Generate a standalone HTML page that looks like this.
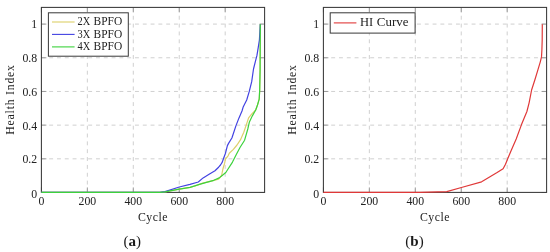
<!DOCTYPE html>
<html><head><meta charset="utf-8"><style>
html,body{margin:0;padding:0;background:#fff;}
body{width:550px;height:252px;overflow:hidden;}
svg{display:block;}
.t{font-family:'Liberation Serif', serif;font-size:11.8px;fill:#222;}
.c{font-family:'Liberation Serif', serif;font-size:15px;fill:#1a1a1a;}
</style></head><body>
<svg width="550" height="252" viewBox="0 0 550 252">
<line x1="87.35" y1="192.4" x2="87.35" y2="7.4" stroke="#cbcbcb" stroke-width="0.9" stroke-dasharray="3.925 3.925"/>
<line x1="133.3" y1="192.4" x2="133.3" y2="7.4" stroke="#cbcbcb" stroke-width="0.9" stroke-dasharray="3.925 3.925"/>
<line x1="179.25" y1="192.4" x2="179.25" y2="7.4" stroke="#cbcbcb" stroke-width="0.9" stroke-dasharray="3.925 3.925"/>
<line x1="225.2" y1="192.4" x2="225.2" y2="7.4" stroke="#cbcbcb" stroke-width="0.9" stroke-dasharray="3.925 3.925"/>
<line x1="41.4" y1="158.82" x2="264.6" y2="158.82" stroke="#cbcbcb" stroke-width="0.9" stroke-dasharray="3.9 3.9"/>
<line x1="41.4" y1="125.14" x2="264.6" y2="125.14" stroke="#cbcbcb" stroke-width="0.9" stroke-dasharray="3.9 3.9"/>
<line x1="41.4" y1="91.46" x2="264.6" y2="91.46" stroke="#cbcbcb" stroke-width="0.9" stroke-dasharray="3.9 3.9"/>
<line x1="41.4" y1="57.78" x2="264.6" y2="57.78" stroke="#cbcbcb" stroke-width="0.9" stroke-dasharray="3.9 3.9"/>
<line x1="41.4" y1="24.1" x2="264.6" y2="24.1" stroke="#cbcbcb" stroke-width="0.9" stroke-dasharray="3.9 3.9"/>
<line x1="41.4" y1="192.4" x2="41.4" y2="187.4" stroke="#8a8a8a" stroke-width="0.8"/>
<line x1="41.4" y1="7.4" x2="41.4" y2="12.4" stroke="#8a8a8a" stroke-width="0.8"/>
<line x1="87.35" y1="192.4" x2="87.35" y2="187.4" stroke="#8a8a8a" stroke-width="0.8"/>
<line x1="87.35" y1="7.4" x2="87.35" y2="12.4" stroke="#8a8a8a" stroke-width="0.8"/>
<line x1="133.3" y1="192.4" x2="133.3" y2="187.4" stroke="#8a8a8a" stroke-width="0.8"/>
<line x1="133.3" y1="7.4" x2="133.3" y2="12.4" stroke="#8a8a8a" stroke-width="0.8"/>
<line x1="179.25" y1="192.4" x2="179.25" y2="187.4" stroke="#8a8a8a" stroke-width="0.8"/>
<line x1="179.25" y1="7.4" x2="179.25" y2="12.4" stroke="#8a8a8a" stroke-width="0.8"/>
<line x1="225.2" y1="192.4" x2="225.2" y2="187.4" stroke="#8a8a8a" stroke-width="0.8"/>
<line x1="225.2" y1="7.4" x2="225.2" y2="12.4" stroke="#8a8a8a" stroke-width="0.8"/>
<line x1="41.4" y1="192.5" x2="46.4" y2="192.5" stroke="#8a8a8a" stroke-width="0.8"/>
<line x1="264.6" y1="192.5" x2="259.6" y2="192.5" stroke="#8a8a8a" stroke-width="0.8"/>
<line x1="41.4" y1="158.82" x2="46.4" y2="158.82" stroke="#8a8a8a" stroke-width="0.8"/>
<line x1="264.6" y1="158.82" x2="259.6" y2="158.82" stroke="#8a8a8a" stroke-width="0.8"/>
<line x1="41.4" y1="125.14" x2="46.4" y2="125.14" stroke="#8a8a8a" stroke-width="0.8"/>
<line x1="264.6" y1="125.14" x2="259.6" y2="125.14" stroke="#8a8a8a" stroke-width="0.8"/>
<line x1="41.4" y1="91.46" x2="46.4" y2="91.46" stroke="#8a8a8a" stroke-width="0.8"/>
<line x1="264.6" y1="91.46" x2="259.6" y2="91.46" stroke="#8a8a8a" stroke-width="0.8"/>
<line x1="41.4" y1="57.78" x2="46.4" y2="57.78" stroke="#8a8a8a" stroke-width="0.8"/>
<line x1="264.6" y1="57.78" x2="259.6" y2="57.78" stroke="#8a8a8a" stroke-width="0.8"/>
<line x1="41.4" y1="24.1" x2="46.4" y2="24.1" stroke="#8a8a8a" stroke-width="0.8"/>
<line x1="264.6" y1="24.1" x2="259.6" y2="24.1" stroke="#8a8a8a" stroke-width="0.8"/>
<rect x="41.4" y="7.4" width="223.2" height="185" fill="none" stroke="#383838" stroke-width="1.05"/>
<polyline points="41.4,192.4 160,192.4 165,191.8 179.3,189.2 190,187.4 195,186 201.9,183.4 210,181.4 218.6,179.1 221.6,175.5 222.8,169.5 223.6,166.5 224.6,163.4 225.5,159 228.1,155.8 229.3,153.2 233.4,149.4 237,145 240.4,139.9 243.8,132.2 246.2,125.1 248.6,117.9 251.6,114.2 254.3,111.4 255.7,110 257.5,105 259.2,99.2 259.7,90 260.1,70 260.3,24.3" fill="none" stroke="#ddcf68" stroke-width="1.2" stroke-linejoin="round" />
<polyline points="41.4,192.4 160,192.4 165,191.6 179.3,187 190,184.4 198.3,182 203.1,177.9 209.1,174.3 215,170.7 218.6,167.2 220.5,165 222.3,162.1 223.6,158.3 225.5,153.2 227.4,145.6 228.7,143.1 231.9,138 235.9,125.9 239,117.9 242,111 243.3,106.7 246.7,100 249.2,91.7 251.7,81.7 253.5,69 255.4,61.4 256.9,55.7 258.3,47.1 259.4,40 260.3,24.3" fill="none" stroke="#4242e2" stroke-width="1.2" stroke-linejoin="round" />
<polyline points="41.4,192.4 160,192.4 165,191.8 179.3,189.2 190,187.4 199.5,184.4 205.5,182.6 213.8,180.3 219.2,177.9 222.2,175.5 225.8,172.5 227.4,170 232.5,162.1 236.3,154.5 240,147.5 244.6,140.2 247.8,129 249.4,121.9 252.5,115.6 255.7,110 257.5,105 259.2,99.2 259.7,90 260.1,70 260.3,24.3" fill="none" stroke="#3cd23c" stroke-width="1.2" stroke-linejoin="round" />
<rect x="48.4" y="12.8" width="79.9" height="43.4" fill="#fff" stroke="#383838" stroke-width="1.0"/>
<line x1="52" y1="22" x2="74.6" y2="22" stroke="#ddcf68" stroke-width="1.1"/>
<text x="77.5" y="25.2" class="t" textLength="12.7" lengthAdjust="spacingAndGlyphs">2X</text>
<text x="93.6" y="25.2" class="t" textLength="28.6" lengthAdjust="spacingAndGlyphs">BPFO</text>
<line x1="52" y1="34.4" x2="74.6" y2="34.4" stroke="#4242e2" stroke-width="1.1"/>
<text x="77.5" y="37.6" class="t" textLength="12.7" lengthAdjust="spacingAndGlyphs">3X</text>
<text x="93.6" y="37.6" class="t" textLength="28.6" lengthAdjust="spacingAndGlyphs">BPFO</text>
<line x1="52" y1="46.9" x2="74.6" y2="46.9" stroke="#3cd23c" stroke-width="1.1"/>
<text x="77.5" y="50.1" class="t" textLength="12.7" lengthAdjust="spacingAndGlyphs">4X</text>
<text x="93.6" y="50.1" class="t" textLength="28.6" lengthAdjust="spacingAndGlyphs">BPFO</text>
<text x="41.4" y="204.8" class="t" text-anchor="middle">0</text>
<text x="87.35" y="204.8" class="t" text-anchor="middle">200</text>
<text x="133.3" y="204.8" class="t" text-anchor="middle">400</text>
<text x="179.25" y="204.8" class="t" text-anchor="middle">600</text>
<text x="225.2" y="204.8" class="t" text-anchor="middle">800</text>
<text x="37.2" y="197.7" class="t" text-anchor="end">0</text>
<text x="37.2" y="163.22" class="t" text-anchor="end">0.2</text>
<text x="37.2" y="129.54" class="t" text-anchor="end">0.4</text>
<text x="37.2" y="95.86" class="t" text-anchor="end">0.6</text>
<text x="37.2" y="62.18" class="t" text-anchor="end">0.8</text>
<text x="37.2" y="27.8" class="t" text-anchor="end">1</text>
<text x="137.9" y="221.4" class="t" textLength="29.6" lengthAdjust="spacing">Cycle</text>
<text class="t" x="0" y="0" textLength="69.7" lengthAdjust="spacing" transform="translate(13.8,134.7) rotate(-90)">Health Index</text>
<line x1="369.35" y1="192.4" x2="369.35" y2="7.4" stroke="#cbcbcb" stroke-width="0.9" stroke-dasharray="3.925 3.925"/>
<line x1="415.3" y1="192.4" x2="415.3" y2="7.4" stroke="#cbcbcb" stroke-width="0.9" stroke-dasharray="3.925 3.925"/>
<line x1="461.25" y1="192.4" x2="461.25" y2="7.4" stroke="#cbcbcb" stroke-width="0.9" stroke-dasharray="3.925 3.925"/>
<line x1="507.2" y1="192.4" x2="507.2" y2="7.4" stroke="#cbcbcb" stroke-width="0.9" stroke-dasharray="3.925 3.925"/>
<line x1="323.4" y1="158.82" x2="546.6" y2="158.82" stroke="#cbcbcb" stroke-width="0.9" stroke-dasharray="3.9 3.9"/>
<line x1="323.4" y1="125.14" x2="546.6" y2="125.14" stroke="#cbcbcb" stroke-width="0.9" stroke-dasharray="3.9 3.9"/>
<line x1="323.4" y1="91.46" x2="546.6" y2="91.46" stroke="#cbcbcb" stroke-width="0.9" stroke-dasharray="3.9 3.9"/>
<line x1="323.4" y1="57.78" x2="546.6" y2="57.78" stroke="#cbcbcb" stroke-width="0.9" stroke-dasharray="3.9 3.9"/>
<line x1="323.4" y1="24.1" x2="546.6" y2="24.1" stroke="#cbcbcb" stroke-width="0.9" stroke-dasharray="3.9 3.9"/>
<line x1="323.4" y1="192.4" x2="323.4" y2="187.4" stroke="#8a8a8a" stroke-width="0.8"/>
<line x1="323.4" y1="7.4" x2="323.4" y2="12.4" stroke="#8a8a8a" stroke-width="0.8"/>
<line x1="369.35" y1="192.4" x2="369.35" y2="187.4" stroke="#8a8a8a" stroke-width="0.8"/>
<line x1="369.35" y1="7.4" x2="369.35" y2="12.4" stroke="#8a8a8a" stroke-width="0.8"/>
<line x1="415.3" y1="192.4" x2="415.3" y2="187.4" stroke="#8a8a8a" stroke-width="0.8"/>
<line x1="415.3" y1="7.4" x2="415.3" y2="12.4" stroke="#8a8a8a" stroke-width="0.8"/>
<line x1="461.25" y1="192.4" x2="461.25" y2="187.4" stroke="#8a8a8a" stroke-width="0.8"/>
<line x1="461.25" y1="7.4" x2="461.25" y2="12.4" stroke="#8a8a8a" stroke-width="0.8"/>
<line x1="507.2" y1="192.4" x2="507.2" y2="187.4" stroke="#8a8a8a" stroke-width="0.8"/>
<line x1="507.2" y1="7.4" x2="507.2" y2="12.4" stroke="#8a8a8a" stroke-width="0.8"/>
<line x1="323.4" y1="192.5" x2="328.4" y2="192.5" stroke="#8a8a8a" stroke-width="0.8"/>
<line x1="546.6" y1="192.5" x2="541.6" y2="192.5" stroke="#8a8a8a" stroke-width="0.8"/>
<line x1="323.4" y1="158.82" x2="328.4" y2="158.82" stroke="#8a8a8a" stroke-width="0.8"/>
<line x1="546.6" y1="158.82" x2="541.6" y2="158.82" stroke="#8a8a8a" stroke-width="0.8"/>
<line x1="323.4" y1="125.14" x2="328.4" y2="125.14" stroke="#8a8a8a" stroke-width="0.8"/>
<line x1="546.6" y1="125.14" x2="541.6" y2="125.14" stroke="#8a8a8a" stroke-width="0.8"/>
<line x1="323.4" y1="91.46" x2="328.4" y2="91.46" stroke="#8a8a8a" stroke-width="0.8"/>
<line x1="546.6" y1="91.46" x2="541.6" y2="91.46" stroke="#8a8a8a" stroke-width="0.8"/>
<line x1="323.4" y1="57.78" x2="328.4" y2="57.78" stroke="#8a8a8a" stroke-width="0.8"/>
<line x1="546.6" y1="57.78" x2="541.6" y2="57.78" stroke="#8a8a8a" stroke-width="0.8"/>
<line x1="323.4" y1="24.1" x2="328.4" y2="24.1" stroke="#8a8a8a" stroke-width="0.8"/>
<line x1="546.6" y1="24.1" x2="541.6" y2="24.1" stroke="#8a8a8a" stroke-width="0.8"/>
<rect x="323.4" y="7.4" width="223.2" height="185" fill="none" stroke="#383838" stroke-width="1.05"/>
<polyline points="323.4,192.4 420,192.3 446.8,191.7 461.4,187.5 481.6,181.8 490,176.8 497.1,172.6 503.1,168.8 505.5,164.3 507.9,158.3 511.4,150 516.2,139 521.5,124.6 526.9,111.5 529.1,102.8 531.6,90 534.9,79.7 537.9,69.8 540.3,61.8 541.5,56.9 541.9,49.9 542.2,40 542.3,24.3" fill="none" stroke="#e03838" stroke-width="1.2" stroke-linejoin="round" />
<rect x="330.2" y="12.8" width="84.9" height="20.3" fill="#fff" stroke="#383838" stroke-width="1.0"/>
<line x1="333.8" y1="22.9" x2="356.4" y2="22.9" stroke="#e03838" stroke-width="1.1"/>
<text x="359.9" y="26.1" class="t" textLength="13.2" lengthAdjust="spacingAndGlyphs">HI</text>
<text x="376.8" y="26.1" class="t" textLength="31.6" lengthAdjust="spacingAndGlyphs">Curve</text>
<text x="323.4" y="204.8" class="t" text-anchor="middle">0</text>
<text x="369.35" y="204.8" class="t" text-anchor="middle">200</text>
<text x="415.3" y="204.8" class="t" text-anchor="middle">400</text>
<text x="461.25" y="204.8" class="t" text-anchor="middle">600</text>
<text x="507.2" y="204.8" class="t" text-anchor="middle">800</text>
<text x="319.2" y="197.7" class="t" text-anchor="end">0</text>
<text x="319.2" y="163.22" class="t" text-anchor="end">0.2</text>
<text x="319.2" y="129.54" class="t" text-anchor="end">0.4</text>
<text x="319.2" y="95.86" class="t" text-anchor="end">0.6</text>
<text x="319.2" y="62.18" class="t" text-anchor="end">0.8</text>
<text x="319.2" y="27.8" class="t" text-anchor="end">1</text>
<text x="419.9" y="221.4" class="t" textLength="29.6" lengthAdjust="spacing">Cycle</text>
<text class="t" x="0" y="0" textLength="69.7" lengthAdjust="spacing" transform="translate(295.8,134.7) rotate(-90)">Health Index</text>
<text x="132.3" y="245.7" class="c" text-anchor="middle">(<tspan font-weight="bold">a</tspan>)</text>
<text x="414.5" y="245.7" class="c" text-anchor="middle">(<tspan font-weight="bold">b</tspan>)</text>
</svg>
</body></html>
